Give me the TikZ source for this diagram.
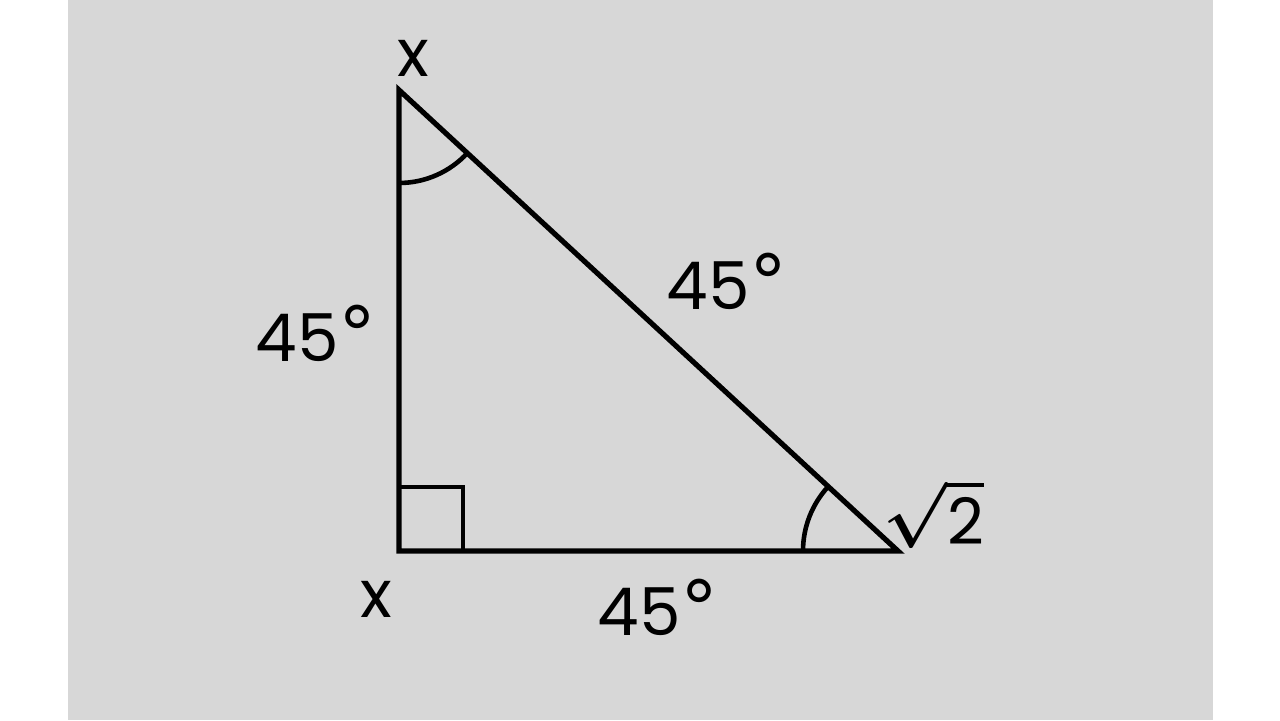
\RequirePackage{fix-cm}
\documentclass[tikz,border=0pt]{standalone}
\usepackage{fontspec}
\setmainfont{Poppins}
\newfontfamily\degfont{DejaVu Sans}
\newcommand{\degsym}{{\degfont\fontsize{38}{38}\selectfont °}}
\begin{document}
\begin{tikzpicture}[x=0.5pt,y=0.5pt,
  edge/.style={line width=2.6pt,line join=miter,line cap=rect},
  anglemark/.style={line width=2.3pt},
  lbl/.style={inner sep=0pt,font=\fontsize{33}{33}\selectfont}]
\useasboundingbox (0,0) rectangle (1280,720);
\fill[white] (0,0) rectangle (1280,720);
\fill[fill={rgb,255:red,215;green,215;blue,215}] (68,0) rectangle (1213,720);
\coordinate (A) at (399,630);
\coordinate (C) at (399,169);
\coordinate (B) at (898,169);
\draw[edge] (A) -- (C) -- (B) -- cycle;
\draw[anglemark] (C) ++(0,64) -- ++(64,0) -- ++(0,-64);
\draw[anglemark] (A) ++(0,-93) arc[start angle=270,end angle=317.3,radius=93];
\draw[anglemark] (B) ++(-95,0) arc[start angle=180,end angle=137.3,radius=95];
\node[lbl] (xt) at (413,662) {x};
\node[lbl] (xb) at (376,121) {x};
\node[lbl] (l1) at (316,387) {45\degsym};
\node[lbl] (l2) at (727,439) {45\degsym};
\node[lbl] (l3) at (658,113) {45\degsym};
\node[lbl] (r2) at (934,206) {{\boldmath$\sqrt{\vphantom{\rule{0pt}{26pt}}\mbox{\fontsize{32}{32}\selectfont 2}}$}};
\end{tikzpicture}
\end{document}
